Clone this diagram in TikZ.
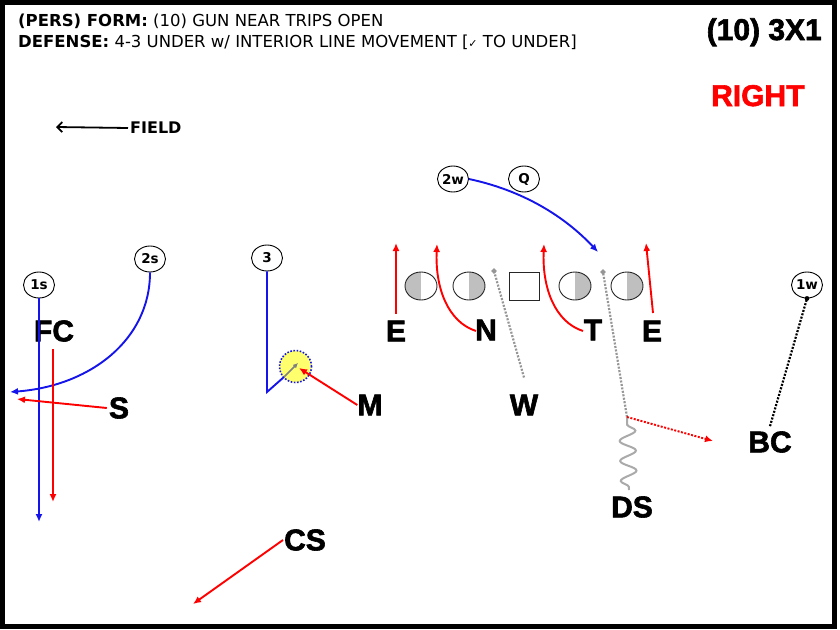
\documentclass[tikz,border=0pt]{standalone}
\usepackage{fontspec}
\setmainfont{DejaVu Sans}
\newfontfamily\hdrfont{DejaVu Sans}
\newfontfamily\labfont[FakeBold=2]{Liberation Sans Bold}
\newfontfamily\symfont{DejaVu Sans}
\usetikzlibrary{shapes.geometric,arrows.meta,decorations.pathmorphing}
\definecolor{pred}{RGB}{255,0,0}
\definecolor{pblue}{RGB}{20,20,235}
\definecolor{lgray}{RGB}{191,191,191}
\definecolor{dgray}{RGB}{150,150,150}
\definecolor{sgray}{RGB}{170,170,170}
\definecolor{pyellow}{RGB}{255,255,110}
\begin{document}
\begin{tikzpicture}[x=1pt,y=-1pt,
  lab/.style={font=\labfont\fontsize{30}{30}\selectfont, inner sep=0pt},
  off/.style={ellipse, draw, line width=0.9pt, minimum width=31pt, minimum height=26pt, inner sep=0pt, font=\bfseries\fontsize{13.5}{13.5}\selectfont},
  lmr/.style={ellipse, draw=black!85, line width=0.9pt, minimum width=32pt, minimum height=28pt, inner sep=0pt,
     path picture={\fill[lgray] (path picture bounding box.north) rectangle (path picture bounding box.south east);}},
  lml/.style={ellipse, draw=black!85, line width=0.9pt, minimum width=32pt, minimum height=28pt, inner sep=0pt,
     path picture={\fill[lgray] (path picture bounding box.north) rectangle (path picture bounding box.south west);}},
  ctr/.style={rectangle, draw=black!85, line width=0.9pt, minimum width=30pt, minimum height=28pt, inner sep=0pt},
  redarr/.style={draw=pred, line width=1.9pt, -{Latex[length=8pt,width=7pt]}},
  bluearr/.style={draw=pblue, line width=1.9pt, -{Latex[length=8pt,width=7pt]}},
  blueline/.style={draw=pblue, line width=1.9pt},
  gdot/.style={draw=dgray, line width=2.2pt, dash pattern=on 2pt off 1.5pt},
  hdr/.style={anchor=base west, inner sep=0pt, font=\hdrfont\fontsize{16.5}{16.5}\selectfont}
]
\useasboundingbox (0,0) rectangle (840,629);
\draw[line width=5pt] (2.5,2.2) rectangle (834.5,626.5);

% header
\node[hdr] (h1) at (18,26) {\textbf{(PERS) FORM:} (10) GUN NEAR TRIPS OPEN};
\node[hdr] (h2) at (18,47) {\textbf{DEFENSE:} 4-3 UNDER w/ INTERIOR LINE MOVEMENT [{\symfont\fontsize{11}{11}\selectfont ✓} TO UNDER]};
\node[font=\labfont\fontsize{30}{30}\selectfont, inner sep=0pt, anchor=base east] (form) at (822,40) {(10) 3X1};
\node[font=\labfont\fontsize{30}{30}\selectfont, text=pred, inner sep=0pt, anchor=base west] (dir) at (711,106) {RIGHT};

% field
\node[font=\bfseries\fontsize{16}{16}\selectfont, inner sep=0pt, anchor=west] (field) at (130,128) {FIELD};
\coordinate (fieldtip) at (56,127);
\draw[line width=1.8pt, -{Straight Barb[length=5pt,width=10pt]}] (field.west) ++(-2,0) -- (fieldtip);

% offense
\node[off] (p2w) at (453,179) {2w};
\node[off] (pQ) at (524,179) {Q};
\node[off] (p2s) at (150,259) {2s};
\node[off] (p1s) at (39,285) {1s};
\node[off] (p3) at (267,258) {3};
\node[off] (p1w) at (807,285) {1w};

% line
\node[lml] (ol1) at (421,286) {};
\node[lmr] (ol2) at (469,286) {};
\node[ctr] (oc) at (524,286) {};
\node[lmr] (ol3) at (575,286) {};
\node[lmr] (ol4) at (627,286) {};

% defensive labels
\node[lab] (FC) at (54,331) {FC};
\node[lab] (S) at (119,408) {S};
\node[lab] (M) at (370,405) {M};
\node[lab] (E1) at (396,331) {E};
\node[lab] (N) at (486,330) {N};
\node[lab] (T) at (593,330) {T};
\node[lab] (E2) at (652,331) {E};
\node[lab] (W) at (524,405) {W};
\node[lab] (DS) at (632,507) {DS};
\node[lab] (BC) at (770,442) {BC};
\node[lab] (CS) at (305,540) {CS};

% zone / yellow
\node[circle, minimum size=32pt, inner sep=0pt, fill=pyellow, draw=pblue, line width=1.6pt, dash pattern=on 1.6pt off 1.6pt] (zone) at (295.5,366.5) {};

% coordinates
\coordinate (c2wend) at (598,252);
\coordinate (c2send) at (10,392);
\coordinate (c1send) at (39,522);
\coordinate (c3corner) at (267,392);
\coordinate (c3end) at (284,377);
\coordinate (cgray) at (298,363);
\coordinate (cMend) at (299,368);
\coordinate (cSend) at (17,399);
\coordinate (cFCs) at (53,349);
\coordinate (cFCe) at (53,502);
\coordinate (cE1s) at (396,314);
\coordinate (cE1e) at (396,243);
\coordinate (cNs) at (476,331);
\coordinate (cNe) at (437,244);
\coordinate (cTs) at (583,331);
\coordinate (cTe) at (544,244);
\coordinate (cE2s) at (653,313);
\coordinate (cE2e) at (646,243);
\coordinate (cWtop) at (494,271);
\coordinate (cDSbot) at (629,490);
\coordinate (cDStop) at (627,417);
\coordinate (cDSup) at (603,272);
\coordinate (cDSred) at (713,441);
\coordinate (cCSe) at (193,604);

% offense routes
\draw[bluearr] (p2w.east) .. controls (530,192) and (570,222) .. (c2wend);
\draw[bluearr] (p2s.south) .. controls (150,340) and (90,386) .. (c2send);
\draw[bluearr] (p1s.south) -- (c1send);
\draw[blueline] (p3.south) -- (c3corner) -- (c3end);
\draw[draw=gray, line width=1.6pt, -{Latex[length=5pt,width=5pt]}] (c3end) -- (cgray);

% defense
\draw[redarr] (M.west) -- (cMend);
\draw[redarr] (S.west) ++(-2,0) -- (cSend);
\draw[redarr] (cFCs) -- (cFCe);
\draw[redarr] (cE1s) -- (cE1e);
\draw[redarr] (cNs) .. controls (448,322) and (435,288) .. (cNe);
\draw[redarr] (cTs) .. controls (555,322) and (542,288) .. (cTe);
\draw[redarr] (cE2s) -- (cE2e);
\draw[redarr] (CS.west) ++(-1,0) -- (cCSe);

\draw[gdot] (W.north) ++(0,-17) -- (cWtop);
\fill[dgray] (cWtop) ++(-2.8,0) -- ++(2.8,-2.8) -- ++(2.8,2.8) -- ++(-2.8,2.8) -- cycle;
\draw[gdot] (cDStop) -- (cDSup);
\fill[dgray] (cDSup) ++(-2.8,0) -- ++(2.8,-2.8) -- ++(2.8,2.8) -- ++(-2.8,2.8) -- cycle;
\draw[draw=sgray, line width=2pt, decorate, decoration={snake, amplitude=8pt, segment length=20pt, pre length=3pt, post length=3pt}] (cDSbot) -- (cDStop);
\draw[draw=pred, line width=1.9pt, dash pattern=on 2pt off 1.5pt, -{Latex[length=8pt,width=7pt]}] (cDStop) -- (cDSred);
\draw[line width=2.2pt, dash pattern=on 2pt off 1.5pt] (BC.north) ++(0,-5) -- (p1w.south);
\fill (p1w.south) circle (2.4pt);
\end{tikzpicture}
\end{document}
